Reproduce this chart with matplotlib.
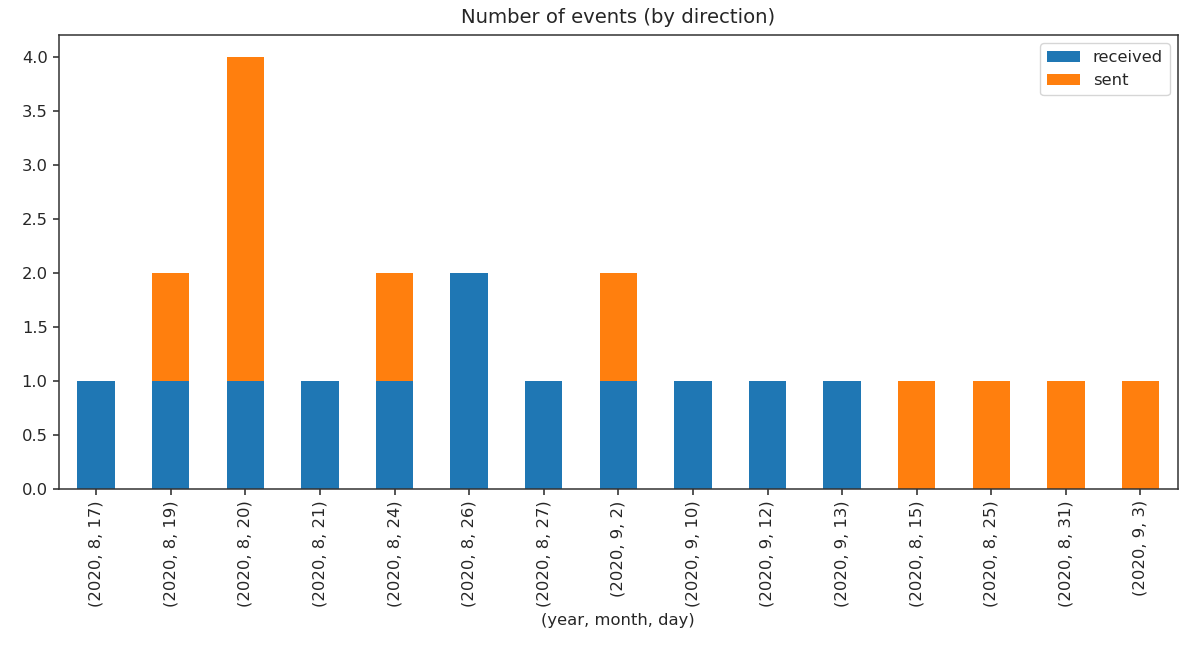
import matplotlib
matplotlib.use("Agg")
import matplotlib.pyplot as plt
import numpy as np

categories = ["(2020, 8, 17)", "(2020, 8, 19)", "(2020, 8, 20)", "(2020, 8, 21)",
              "(2020, 8, 24)", "(2020, 8, 26)", "(2020, 8, 27)", "(2020, 9, 2)",
              "(2020, 9, 10)", "(2020, 9, 12)", "(2020, 9, 13)", "(2020, 8, 15)",
              "(2020, 8, 25)", "(2020, 8, 31)", "(2020, 9, 3)"]
received = [1, 1, 1, 1, 1, 2, 1, 1, 1, 1, 1, 0, 0, 0, 0]
sent = [0, 1, 3, 0, 1, 0, 0, 1, 0, 0, 0, 1, 1, 1, 1]

plt.rcParams['font.family'] = ['DejaVu Sans']
plt.rcParams['font.size'] = 11.8
plt.rcParams['text.color'] = '#262626'
plt.rcParams['xtick.color'] = '#262626'
plt.rcParams['ytick.color'] = '#262626'
plt.rcParams['axes.labelcolor'] = '#262626'
plt.rcParams['xtick.major.size'] = 4.5
plt.rcParams['ytick.major.size'] = 4.5
plt.rcParams['xtick.major.width'] = 1.1
plt.rcParams['ytick.major.width'] = 1.1
plt.rcParams['axes.linewidth'] = 1.1
plt.rcParams['axes.edgecolor'] = '#333333'

fig = plt.figure(figsize=(12, 6.51), dpi=100)
ax = fig.add_axes([0.049, 0.2488, 0.9325, 0.697])
x = np.arange(len(categories))
ax.bar(x, received, width=0.5, color='#1f77b4', label='received')
ax.bar(x, sent, width=0.5, bottom=received, color='#ff7f0e', label='sent')
ax.set_xticks(x)
ax.set_xticklabels(categories, rotation=90)
ax.set_xlim(-0.5, len(categories) - 0.5)
ax.set_ylim(0, 4.2)
ax.set_yticks(np.arange(0, 4.01, 0.5))
ax.set_xlabel('(year, month, day)')
ax.set_title('Number of events (by direction)', pad=9)
ax.legend(loc='upper right')
fig.savefig('out.png', dpi=100)
